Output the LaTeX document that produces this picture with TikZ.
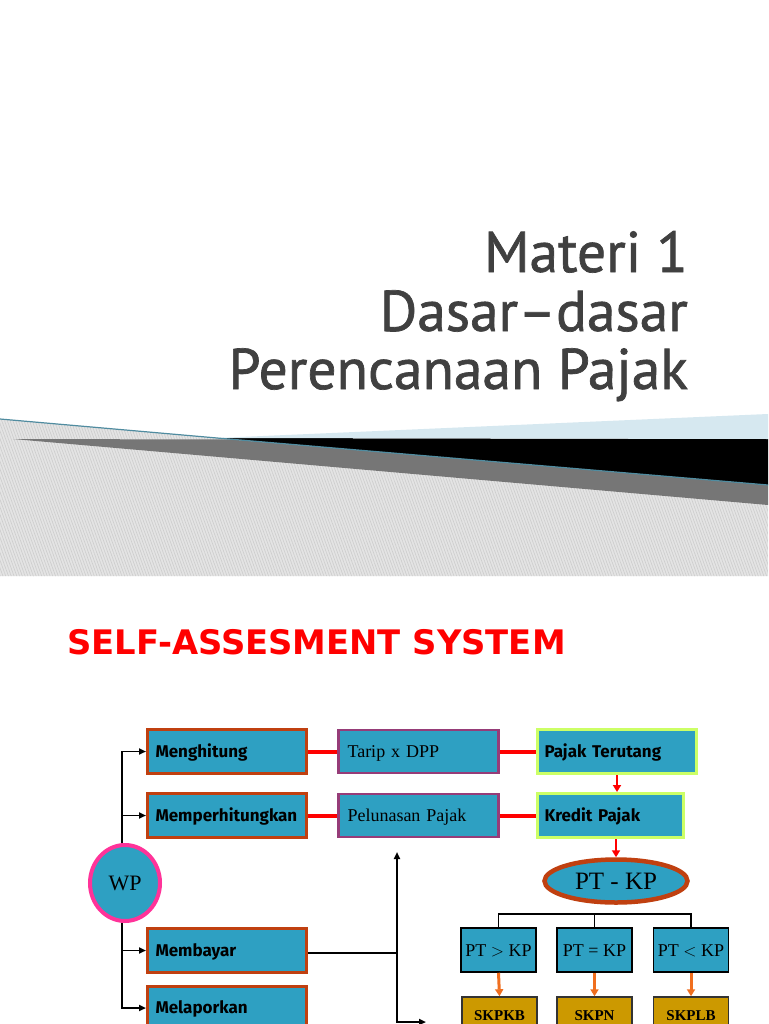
\documentclass[tikz,border=0pt]{standalone}
\usepackage{fontspec}
\usepackage{tikz}
\usetikzlibrary{arrows.meta,shapes.geometric,patterns.meta}
\setmainfont{Liberation Serif}
\newfontfamily\slidefont{PT Sans}[UprightFeatures={FakeBold=1.2}]
\newfontfamily\headfont{DejaVu Sans}
\newfontfamily\boxfont{Fira Sans}

\definecolor{boxteal}{RGB}{46,160,194}
\definecolor{rust}{RGB}{192,64,16}
\definecolor{plum}{RGB}{150,60,120}
\definecolor{limeline}{RGB}{204,255,102}
\definecolor{hotpink}{RGB}{255,51,153}
\definecolor{goldbox}{RGB}{204,153,0}
\definecolor{arroworange}{RGB}{240,110,30}
\definecolor{titlegray}{RGB}{64,64,64}
\definecolor{bandgray}{RGB}{228,228,228}
\definecolor{bandline}{RGB}{206,206,206}
\definecolor{shadowgray}{RGB}{118,118,118}
\definecolor{sky}{RGB}{214,232,240}
\definecolor{tealline}{RGB}{80,140,160}

\tikzset{
    slide-title/.style = {text=titlegray, inner sep=0pt, font=\slidefont\fontsize{57.5}{60}\selectfont},
    head-text/.style = {text=red, inner sep=0pt, font=\headfont\bfseries\fontsize{33.8}{36}\selectfont},
    step-box/.style = {draw=rust, fill=boxteal, line width=3pt, rectangle, minimum height=44pt, inner xsep=8pt, text width=143pt, text height=11.7pt, text depth=0pt, align=left, font=\boxfont\bfseries\fontsize{17}{19}\selectfont},
    calc-box/.style = {draw=plum, fill=boxteal, line width=2.5pt, rectangle, minimum height=43pt, inner xsep=9pt, text width=142pt, text height=12pt, text depth=0pt, align=left, font=\fontsize{18}{20}\selectfont},
    result-box/.style = {draw=limeline, fill=boxteal, line width=3pt, rectangle, minimum height=44pt, inner xsep=7pt, text height=11.7pt, text depth=0pt, align=left, font=\boxfont\bfseries\fontsize{17}{19}\selectfont},
    compare-box/.style = {draw=black, fill=boxteal, line width=1.5pt, rectangle, minimum width=75pt, minimum height=44pt, text height=12pt, text depth=0pt, font=\fontsize{18}{20}\selectfont},
    skp-box/.style = {draw=black!80, fill=goldbox, line width=1.5pt, rectangle, minimum width=75pt, minimum height=36pt, text height=10pt, text depth=0pt, font=\bfseries\fontsize{15}{17}\selectfont},
    wp-node/.style = {ellipse, draw=hotpink, fill=boxteal, line width=4pt, minimum width=70pt, minimum height=76pt, inner sep=0pt, font=\fontsize{22}{24}\selectfont},
    diff-node/.style = {ellipse, draw=rust, fill=boxteal, line width=4.5pt, minimum width=143pt, minimum height=43pt, inner sep=0pt, font=\fontsize{25}{27}\selectfont},
    red-link/.style = {draw=red, line width=4pt},
    red-arrow/.style = {draw=red, line width=2.5pt, -{Triangle[length=7pt,width=8pt]}},
    tree-line/.style = {draw=black, line width=1.8pt},
    tree-arrow/.style = {tree-line, -{Triangle[length=7pt,width=6pt]}},
    orange-arrow/.style = {draw=arroworange, line width=3pt, -{Triangle[length=7pt,width=8pt]}},
}

\begin{document}
\begin{tikzpicture}[x=1pt,y=1pt]
\useasboundingbox (0,0) rectangle (768,-1024);
\clip (0,0) rectangle (768,-1024);
\fill[white] (0,0) rectangle (768,-1024);

% title slide band
\fill[bandgray] (0,-419) -- (217,-438) -- (768,-485) -- (768,-576) -- (0,-576) -- cycle;
\fill[pattern={Lines[angle=-70,distance=2.6pt,line width=0.7pt]}, pattern color=bandline] (0,-419) -- (217,-438) -- (768,-485) -- (768,-576) -- (0,-576) -- cycle;
\fill[shadowgray] (13,-439) -- (230,-439.5) -- (768,-485) -- (768,-505) -- cycle;
\fill[black] (217,-438) -- (768,-439) -- (768,-485) -- cycle;
\fill[sky] (217,-438) -- (768,-414) -- (768,-439) -- cycle;
\draw[tealline, line width=1.2pt] (0,-419) -- (217,-438) -- (768,-485);

\node[slide-title, anchor=base east] (title-a) at (688,-272) {Materi 1};
\node[slide-title, anchor=base east] (title-b) at (688,-331) {Dasar–dasar};
\node[slide-title, anchor=base east] (title-c) at (688,-389) {Perencanaan Pajak};

% self assessment slide
\node[head-text, anchor=base west] (heading) at (67,-654) {SELF-ASSESMENT SYSTEM};

\node[wp-node] (wp) at (125,-883) {WP};

\node[step-box] (menghitung) at (227,-751.5) {Menghitung};
\node[step-box] (memperhitungkan) at (227,-815.5) {Memperhitungkan};
\node[step-box] (membayar) at (227,-950.5) {Membayar};
\node[step-box] (melaporkan) at (227,-1008) {Melaporkan};

\node[calc-box] (tarip) at (418.5,-751.5) {Tarip x DPP};
\node[calc-box] (pelunasan) at (418.5,-815.5) {Pelunasan Pajak};

\node[result-box, text width=145pt] (terutang) at (617,-751.5) {Pajak Terutang};
\node[result-box, text width=132pt] (kredit) at (610.5,-815.5) {Kredit Pajak};

\node[diff-node] (selisih) at (616,-881) {PT - KP};

\node[compare-box] (pt-lebih) at (498.5,-950) {PT $>$ KP};
\node[compare-box] (pt-sama) at (594.5,-950) {PT = KP};
\node[compare-box] (pt-kurang) at (691,-950) {PT $<$ KP};

\node[skp-box] (skpkb) at (499.5,-1015) {SKPKB};
\node[skp-box] (skpn) at (594.5,-1015) {SKPN};
\node[skp-box] (skplb) at (691,-1015) {SKPLB};

% connectors
\draw[red-link] (menghitung.east) -- (tarip.west);
\draw[red-link] (tarip.east) -- (terutang.west);
\draw[red-link] (memperhitungkan.east) -- (pelunasan.west);
\draw[red-link] (pelunasan.east) -- (kredit.west);
\draw[red-arrow] (terutang.south) -- (terutang.south |- kredit.north);
\draw[red-arrow] (selisih.north |- kredit.south) -- (selisih.north);

\draw[tree-arrow] ([xshift=-3pt]wp.north) |- (menghitung.west);
\draw[tree-arrow] ([xshift=-3pt]wp.north) |- (memperhitungkan.west);
\draw[tree-arrow] ([xshift=-3pt]wp.south) |- (membayar.west);
\draw[tree-arrow] ([xshift=-3pt]wp.south) |- (melaporkan.west);

\coordinate (junction) at (397,-953);
\coordinate (up-end) at (397,-852);
\coordinate (down-end) at (426,-1022);
\draw[tree-line] (membayar.east |- junction) -- (junction);
\draw[tree-arrow] (junction) -- (up-end);
\draw[tree-arrow] (junction) |- (down-end);

\coordinate (branch) at (594.5,-914);
\draw[tree-line] (pt-lebih.north) |- (branch) -| (pt-kurang.north);
\draw[tree-line] (branch) -- (pt-sama.north);

\draw[orange-arrow] (pt-lebih.south) -- (skpkb.north);
\draw[orange-arrow] (pt-sama.south) -- (skpn.north);
\draw[orange-arrow] (pt-kurang.south) -- (skplb.north);
\end{tikzpicture}
\end{document}
